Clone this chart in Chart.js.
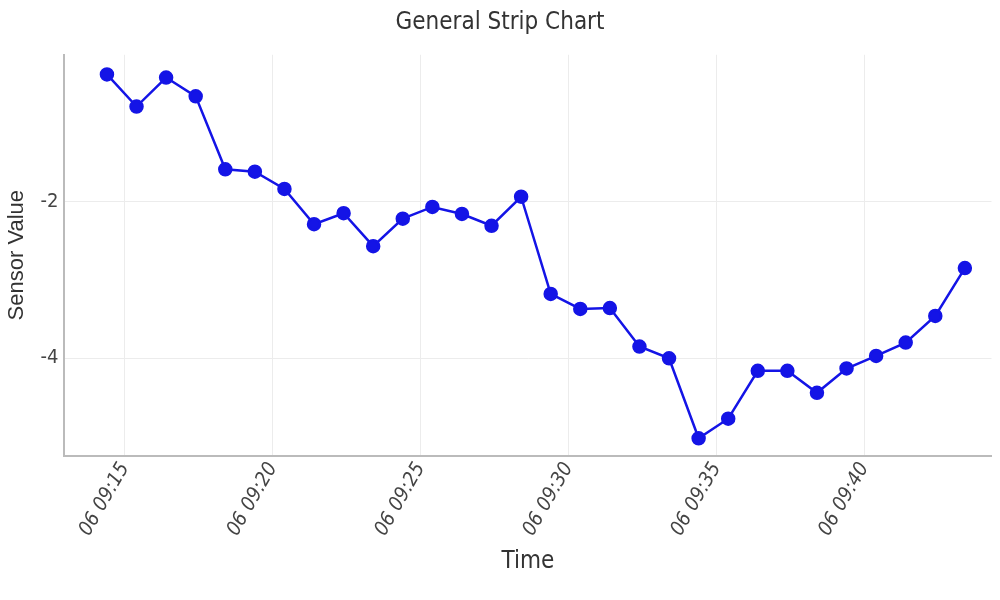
<!DOCTYPE html>
<html lang="en">
<head>
<meta charset="UTF-8">
<title>General Strip Chart</title>
<script src="https://cdn.jsdelivr.net/npm/chart.js"></script>
<style>
  body { margin: 0; background: #fff; }
</style>
</head>
<body>
<canvas id="stripChart" width="1000" height="600"></canvas>
<script>
// readings, one per minute, starting 06 09:14:24
const times = ['09:14:24','09:15:24','09:16:24','09:17:24','09:18:24','09:19:24','09:20:24','09:21:24','09:22:24','09:23:24',
               '09:24:24','09:25:24','09:26:24','09:27:24','09:28:24','09:29:24','09:30:24','09:31:24','09:32:24','09:33:24',
               '09:34:24','09:35:24','09:36:24','09:37:24','09:38:24','09:39:24','09:40:24','09:41:24','09:42:24','09:43:24'];
const values = [-0.38,-0.79,-0.42,-0.66,-1.59,-1.62,-1.84,-2.29,-2.15,-2.57,
                -2.22,-2.07,-2.16,-2.31,-1.94,-3.18,-3.37,-3.36,-3.85,-4.0,
                -5.02,-4.77,-4.16,-4.16,-4.44,-4.13,-3.97,-3.80,-3.46,-2.85];
const xTicks = [15, 20, 25, 30, 35, 40];   // minutes past 09:00
const yTicks = [-4, -2];

function toMinutes(t) {
    const p = t.split(':').map(Number);
    return (p[0] - 9) * 60 + p[1] + p[2] / 60;
}

const ctx = document.getElementById('stripChart').getContext('2d');
new Chart(ctx, {
    type: 'line',
    data: {
        datasets: [{
            data: times.map((t, i) => ({ x: toMinutes(t), y: values[i] })),
            borderColor: '#1414e6',
            backgroundColor: '#1414e6',
            borderWidth: 2.5,
            pointRadius: 6,
            tension: 0
        }]
    },
    options: {
        responsive: false,
        animation: false,
        layout: { padding: { right: 0, top: 0, bottom: 20 } },
        plugins: {
            legend: { display: false },
            title: {
                display: true,
                text: 'General Strip Chart',
                color: '#333',
                font: { family: 'Liberation Sans Narrow, DejaVu Sans Condensed, sans-serif', size: 24, weight: 'normal' },
                padding: { top: 8, bottom: 18 }
            }
        },
        scales: {
            x: {
                type: 'linear',
                min: 12.96, max: 44.3,
                afterBuildTicks: s => { s.ticks = xTicks.map(v => ({ value: v })); },
                ticks: {
                    callback: v => '06 09:' + String(v).padStart(2, '0'),
                    maxRotation: 60, minRotation: 60,
                    color: '#444',
                    font: { family: 'DejaVu Sans Condensed, sans-serif', size: 20, style: 'italic' }
                },
                grid: { color: '#ececec', drawTicks: false },
                border: { color: '#bbb', width: 2 },
                title: {
                    display: true, text: 'Time', color: '#333',
                    font: { family: 'Liberation Sans Narrow, DejaVu Sans Condensed, sans-serif', size: 24 }
                }
            },
            y: {
                min: -5.24, max: -0.13,
                afterBuildTicks: s => { s.ticks = yTicks.map(v => ({ value: v })); },
                ticks: {
                    color: '#444', padding: 6,
                    font: { family: 'DejaVu Sans Condensed, sans-serif', size: 20 }
                },
                grid: { color: '#ececec', drawTicks: false },
                border: { color: '#bbb', width: 2 },
                title: {
                    display: true, text: 'Sensor Value', color: '#333',
                    font: { family: 'Liberation Sans, sans-serif', size: 22 }
                }
            }
        }
    }
});
</script>
</body>
</html>
